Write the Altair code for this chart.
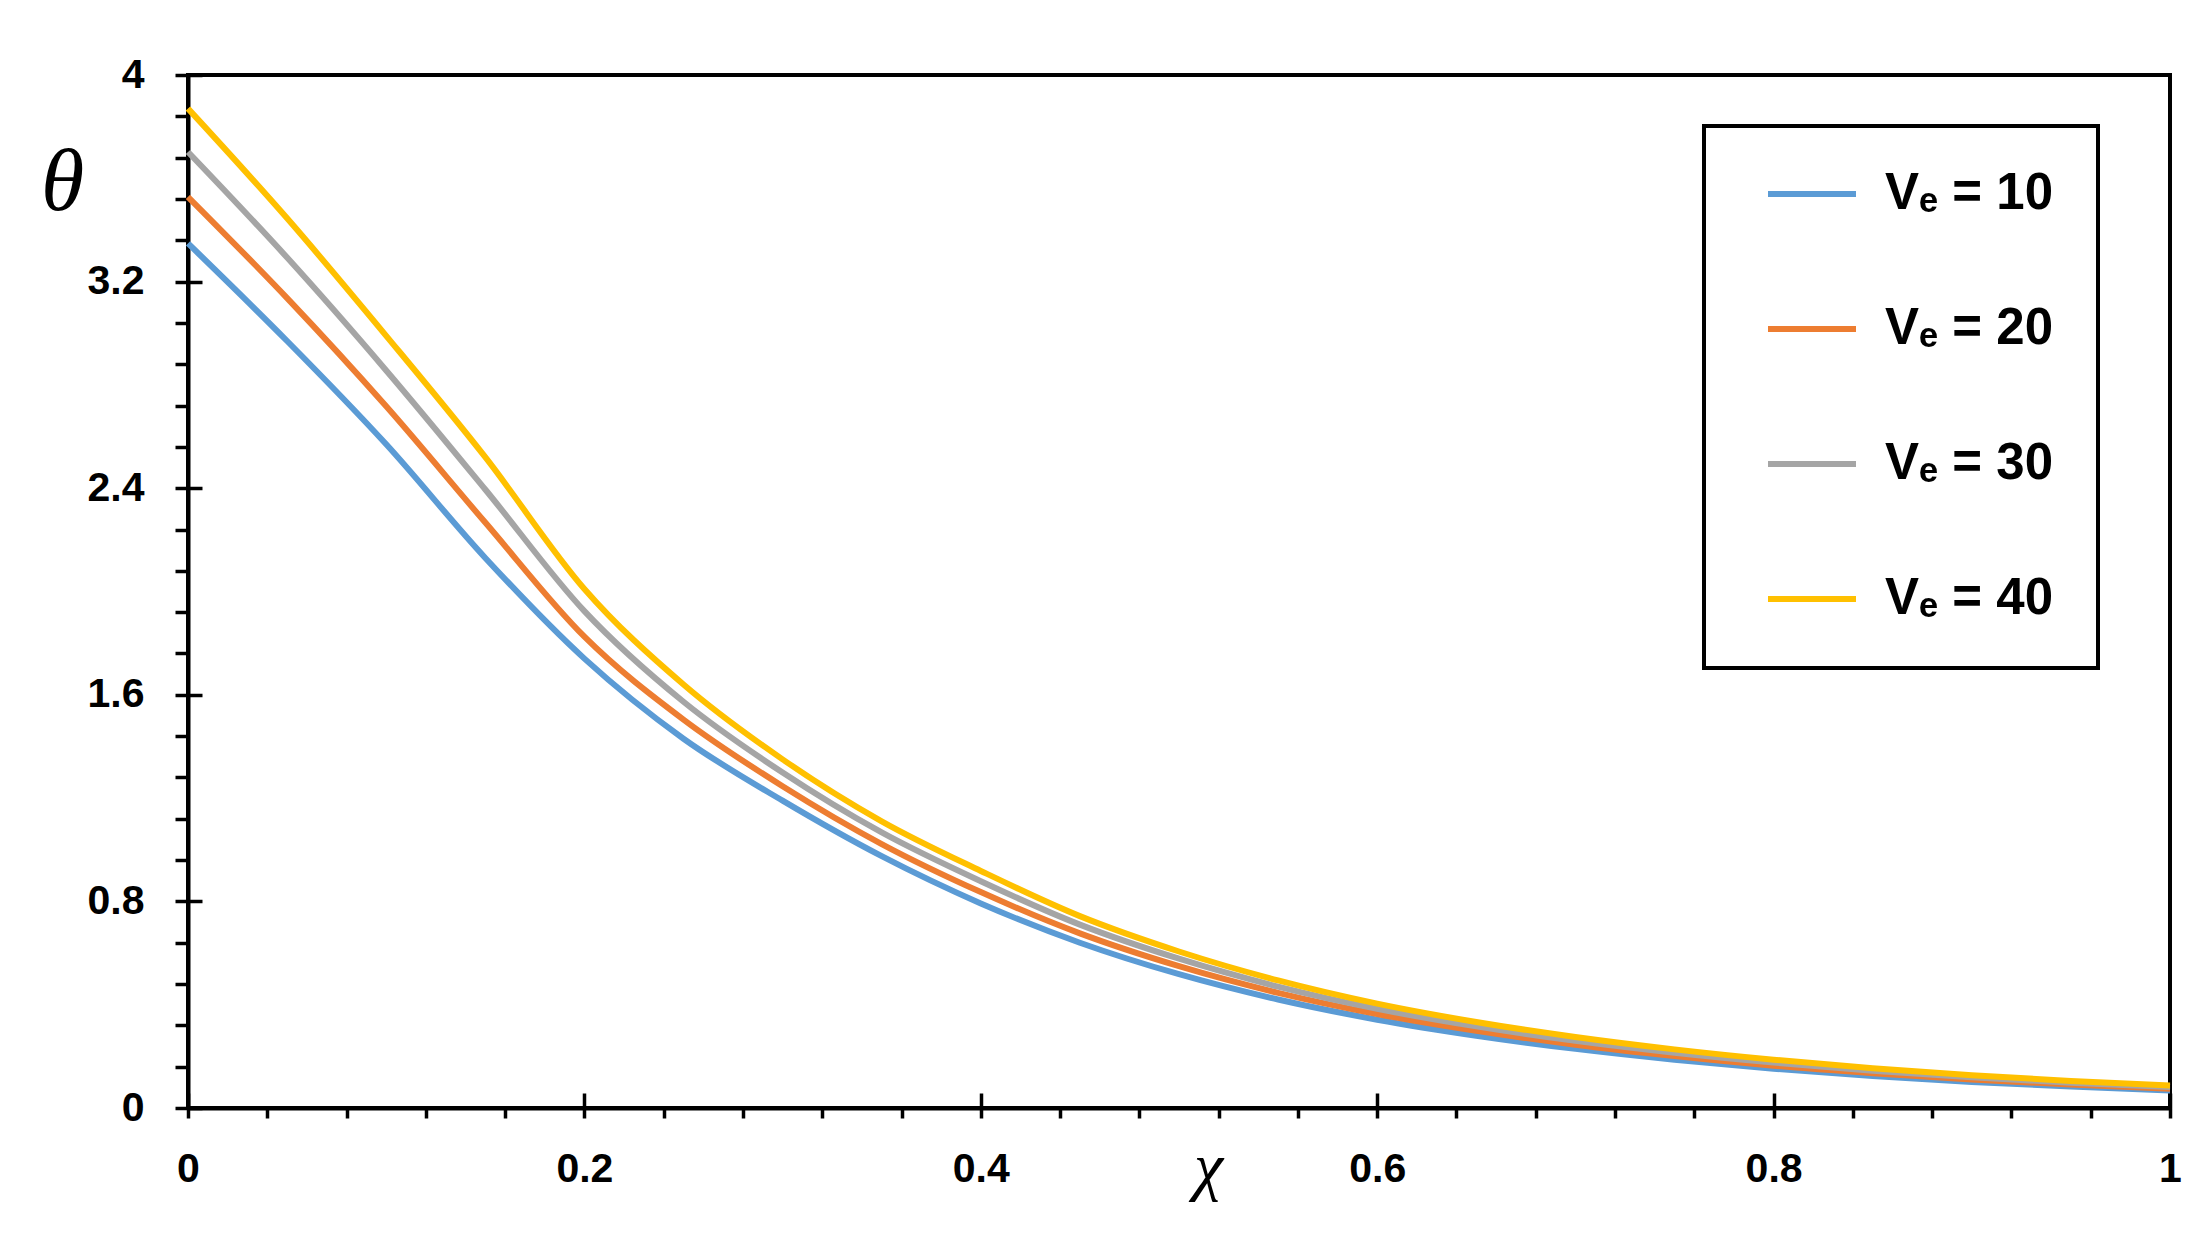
import altair as alt
import pandas as pd

# ---- data ----
chi = [0.0, 0.05, 0.10, 0.15, 0.20, 0.25, 0.30, 0.35, 0.40, 0.45, 0.50,
       0.55, 0.60, 0.65, 0.70, 0.75, 0.80, 0.85, 0.90, 0.95, 1.0]

theta_ve10 = [3.348, 2.970, 2.570, 2.130, 1.740, 1.430, 1.190, 0.975, 0.792, 0.640, 0.518,
              0.420, 0.342, 0.280, 0.229, 0.187, 0.152, 0.124, 0.101, 0.083, 0.068]
theta_ve20 = [3.528, 3.136, 2.717, 2.267, 1.825, 1.504, 1.246, 1.022, 0.836, 0.676, 0.549,
              0.446, 0.364, 0.299, 0.245, 0.201, 0.164, 0.135, 0.110, 0.091, 0.075]
theta_ve30 = [3.702, 3.293, 2.856, 2.395, 1.924, 1.573, 1.299, 1.067, 0.878, 0.710, 0.578,
              0.470, 0.384, 0.316, 0.260, 0.214, 0.176, 0.144, 0.119, 0.098, 0.081]
theta_ve40 = [3.870, 3.445, 2.990, 2.520, 2.010, 1.640, 1.350, 1.110, 0.918, 0.743, 0.606,
              0.494, 0.404, 0.333, 0.275, 0.227, 0.187, 0.154, 0.127, 0.105, 0.087]

series_names = ["Vₑ = 10", "Vₑ = 20", "Vₑ = 30", "Vₑ = 40"]
series_colors = ["#5B9BD5", "#ED7D31", "#A5A5A5", "#FFC000"]

x_minor_ticks = [0, 0.04, 0.08, 0.12, 0.16, 0.2, 0.24, 0.28, 0.32, 0.36, 0.4,
                 0.44, 0.48, 0.52, 0.56, 0.6, 0.64, 0.68, 0.72, 0.76, 0.8,
                 0.84, 0.88, 0.92, 0.96, 1]
x_major_ticks = [0, 0.2, 0.4, 0.6, 0.8, 1]
y_minor_ticks = [0, 0.16, 0.32, 0.48, 0.64, 0.8, 0.96, 1.12, 1.28, 1.44, 1.6,
                 1.76, 1.92, 2.08, 2.24, 2.4, 2.56, 2.72, 2.88, 3.04, 3.2,
                 3.36, 3.52, 3.68, 3.84, 4]
y_major_ticks = [0, 0.8, 1.6, 2.4, 3.2, 4]

rows = []
for name, vals in zip(series_names, [theta_ve10, theta_ve20, theta_ve30, theta_ve40]):
    for c, t in zip(chi, vals):
        rows.append({"chi": c, "theta": t, "series": name})
df = pd.DataFrame(rows)

W, H = 1982, 1033
LABEL_FONT = "Liberation Sans"

xscale = alt.Scale(domain=[0, 1], nice=False, zero=True)
yscale = alt.Scale(domain=[0, 4], nice=False, zero=True)

lines = alt.Chart(df).mark_line(strokeWidth=6, interpolate="monotone").encode(
    x=alt.X("chi:Q", scale=xscale, axis=alt.Axis(
        values=x_minor_ticks, tickSize=10, tickWidth=3.5, tickColor="black",
        domainColor="black", domainWidth=4, grid=False,
        labelExpr="abs(datum.value*5 - round(datum.value*5)) < 0.001 ? format(datum.value, '~g') : ''",
        labelFont=LABEL_FONT, labelFontSize=41, labelFontWeight="bold", labelColor="black",
        labelPadding=31, labelFlush=False, labelOverlap=False,
        title="χ", titleFont="Liberation Serif", titleFontStyle="italic", titleFontWeight="normal",
        titleFontSize=66, titleColor="black", titleX=1020, titleY=79,
        titleBaseline="alphabetic", titleAlign="center")),
    y=alt.Y("theta:Q", scale=yscale, axis=alt.Axis(
        values=y_minor_ticks, tickSize=13, tickWidth=3.5, tickColor="black",
        domainColor="black", domainWidth=4, grid=False,
        labelExpr="abs(datum.value*1.25 - round(datum.value*1.25)) < 0.001 ? format(datum.value, '~g') : ''",
        labelFont=LABEL_FONT, labelFontSize=41, labelFontWeight="bold", labelColor="black",
        labelPadding=31, labelFlush=False, labelOverlap=False,
        title="θ", titleFont="Liberation Serif", titleFontStyle="italic", titleFontWeight="normal",
        titleFontSize=88, titleColor="black", titleAngle=0, titleX=-126, titleY=134,
        titleBaseline="alphabetic", titleAlign="center")),
    color=alt.Color("series:N", scale=alt.Scale(domain=series_names, range=series_colors),
                    legend=alt.Legend(
                        title=None, orient="none", legendX=1516, legendY=51,
                        symbolType="stroke", symbolSize=7744, symbolStrokeWidth=6,
                        symbolOffset=17, clipHeight=48,
                        labelFont=LABEL_FONT, labelFontSize=51, labelFontWeight="bold",
                        labelColor="black", labelOffset=26, labelLimit=500,
                        rowPadding=84, padding=44,
                        strokeColor="black", fillColor="white")),
)

inner_ticks = alt.Chart(df).mark_point(opacity=0, size=1).encode(
    x=alt.X("chi:Q", scale=xscale, axis=alt.Axis(
        orient="top", offset=-H, values=x_major_ticks, tickSize=15, tickWidth=3.5,
        tickColor="black", domain=False, labels=False, grid=False, title=None)),
    y=alt.Y("theta:Q", scale=yscale, axis=alt.Axis(
        orient="right", offset=-W, values=y_major_ticks, tickSize=14, tickWidth=3.5,
        tickColor="black", domain=False, labels=False, grid=False, title=None)),
)

chart = alt.layer(lines, inner_ticks).resolve_axis(
    x="independent", y="independent"
).properties(
    width=W, height=H,
    padding={"left": 180, "top": 67, "right": 23, "bottom": 110},
    autosize=alt.AutoSizeParams(type="none"),
    background="white",
).configure_view(stroke="black", strokeWidth=4
).configure_legend(strokeWidth=4)

chart.save("out.html", embed_options={"renderer": "svg", "actions": False})
